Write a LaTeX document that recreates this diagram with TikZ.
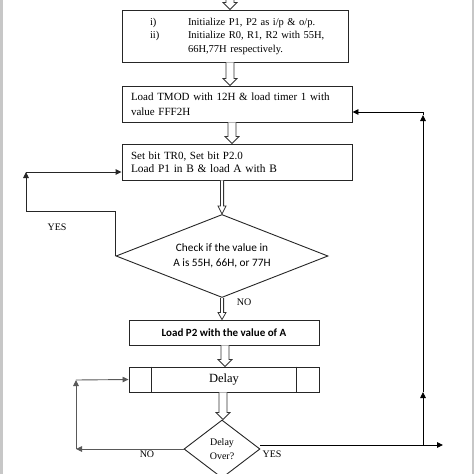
\documentclass[tikz,border=0pt]{standalone}
\usepackage{fontspec}
\setmainfont{Liberation Serif}
\newfontfamily\sansf{Carlito}
\usetikzlibrary{shapes.geometric,arrows.meta,calc}
\tikzset{
  boxst/.style={draw=black!85, line width=0.9pt, rectangle, inner ysep=0pt, align=left},
  dia/.style={draw=black!85, line width=0.9pt, diamond, inner sep=0pt},
  hol/.style={draw=black!80, line width=0.8pt, fill=white, line join=miter},
  arr/.style={draw=black, line width=0.9pt, -{Triangle[length=6pt,width=5.5pt]}},
  ln/.style={draw=black, line width=0.9pt},
  lab/.style={font=\fontsize{10}{12}\selectfont, inner sep=0pt}
}
% hollow block arrow between two points on one vertical: #1 start, #2 end, #3 shaft half width, #4 head half width, #5 head length
\newcommand\harrow[5]{%
  \path[hol] let \p1=(#1), \p2=(#2) in
    (\x1-#3,\y1) -- (\x1-#3,\y2+#5) -- (\x1-#4,\y2+#5) -- (\x1,\y2) --
    (\x1+#4,\y2+#5) -- (\x1+#3,\y2+#5) -- (\x1+#3,\y1);}
\begin{document}
\begin{tikzpicture}[x=1pt,y=-1pt]
\useasboundingbox (0,0) rectangle (474,474);
\clip (0,0) rectangle (474,474);
\fill[white] (0,0) rectangle (474,474);
\fill[black!22] (0,0) rectangle (2.5,474);
\fill[black!22] (471.5,0) rectangle (474,474);

% boxes
\node[boxst, minimum width=226pt, minimum height=52pt, inner xsep=28pt, text width=170pt,
      font=\fontsize{10.5}{13.5}\selectfont] (b1) at (235,36)
  {\begin{tabular}{@{}p{38pt}@{}l@{}}i) & Initialize P1, P2 as i/p \& o/p.\\ ii) & Initialize R0, R1, R2 with 55H,\\ & 66H,77H respectively.\end{tabular}};
\node[boxst, minimum width=230pt, minimum height=36pt, inner xsep=9pt, text width=212pt,
      font=\fontsize{11}{15}\selectfont] (b2) at (237,104)
  {Load TMOD with 12H \& load timer 1 with\\value FFF2H};
\node[boxst, minimum width=230pt, minimum height=36pt, inner xsep=9pt, text width=212pt,
      font=\fontsize{11}{13.5}\selectfont] (b3) at (237,162)
  {Set bit TR0, Set bit P2.0\\{\fontsize{11.4}{13.5}\selectfont Load P1 in B \& load A with B}};
\node[dia, minimum width=212pt, minimum height=83pt] (d1) at (222,256) {};
\node[align=center, inner sep=0pt, font=\sansf\fontsize{11.3}{15.5}\selectfont] (d1t) at (d1.center)
  {Check if the value in\\A is 55H, 66H, or 77H};
\node[boxst, minimum width=190pt, minimum height=25pt, align=center, font=\sansf\bfseries\fontsize{11}{12}\selectfont] (b4) at (224,332.5)
  {Load P2 with the value of A};
\node[boxst, minimum width=190pt, minimum height=25pt, align=center, font=\fontsize{12.5}{14}\selectfont] (b5) at (224,379.5)
  {Delay};
\draw[black!85, line width=0.9pt] ([xshift=23pt]b5.north west) -- ([xshift=23pt]b5.south west);
\draw[black!85, line width=0.9pt] ([xshift=-23pt]b5.north east) -- ([xshift=-23pt]b5.south east);
\node[dia, minimum width=76pt, minimum height=58pt] (d2) at (222,449) {};
\node[align=center, inner sep=0pt, font=\fontsize{10}{14.5}\selectfont] (d2t) at (d2.center)
  {Delay\\Over?};

% hollow flow arrows
\coordinate (t0) at (230,-6);
\coordinate (x1) at (230,0);
\coordinate (x2) at (232,0);
\coordinate (x4) at (225,0);
\coordinate (x5) at (223,0);
\harrow{t0}{b1.north -| t0}{4pt}{7pt}{7pt}
\harrow{b1.south -| x1}{b2.north -| x1}{4pt}{7pt}{7pt}
\harrow{b2.south -| x2}{b3.north -| x2}{4pt}{7pt}{7pt}
\harrow{b3.south -| d1.north}{d1.north}{1.6pt}{4pt}{8pt}
\harrow{d1.south}{b4.north -| d1.south}{1.6pt}{4pt}{7pt}
\harrow{b4.south -| x4}{b5.north -| x4}{4pt}{7pt}{7pt}
\harrow{b5.south -| x5}{d2.north -| x5}{4pt}{7pt}{7pt}

% YES loop (first decision)
\coordinate (yl) at (26,211);
\coordinate (e3) at ([yshift=-10pt]b3.west);
\draw[ln, black!85] (d1.west) |- (yl);
\draw[arr, black!85] (yl) -- (yl |- e3);
\draw[arr, black!85] (yl |- e3) -- (e3);
\node[lab] (yes1) at (57,227) {YES};
\node[lab] (no1) at (244,302) {NO};

% NO loop (delay decision)
\coordinate (nl) at (76,449);
\coordinate (nt) at (76,380);
\draw[arr, black!65] (d2.west) -- (nl);
\draw[arr, black!65] (nl) -- (nt);
\draw[arr, black!65] (nt) -- (b5.west);
\node[lab] (no2) at (147,454) {NO};

% YES loop (delay decision) back to timer load
\coordinate (ds) at ([yshift=4pt]d2.east);
\coordinate (yr) at (443,445);
\coordinate (rx) at (423,445);
\coordinate (rm) at (423,392);
\coordinate (e2) at ([yshift=-8pt]b2.east);
\coordinate (rt) at (rx |- e2);
\draw[arr] (ds) -- (yr);
\draw[arr] (rx) -- (rm);
\draw[arr] (rm) -- ([yshift=-3pt]rt);
\draw[ln] ([yshift=-3pt]rt) -- (rt);
\draw[arr] (rt) -- (e2);
\node[lab] (yes2) at (272,454) {YES};
\end{tikzpicture}
\end{document}
